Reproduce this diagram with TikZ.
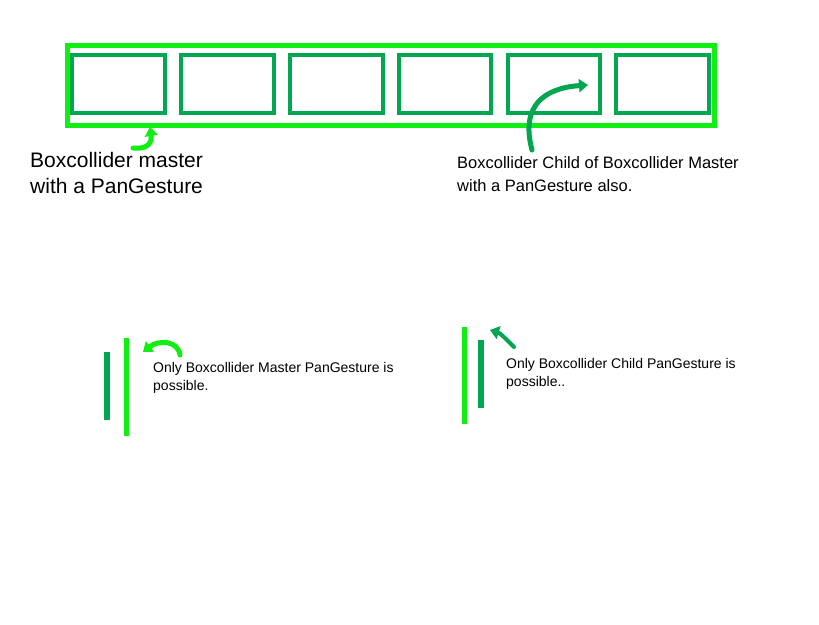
\documentclass[tikz,border=0pt]{standalone}
\usepackage{fontspec}
\setmainfont{Liberation Sans}
\usetikzlibrary{arrows.meta}
\definecolor{bright}{HTML}{11EE11}
\definecolor{dark}{HTML}{00A650}
\tikzset{
  outer/.style={draw=bright,line width=5pt},
  inner/.style={draw=dark,line width=4pt},
  brightbar/.style={draw=bright,line width=5pt},
  darkbar/.style={draw=dark,line width=6pt},
  curvy/.style={line width=5pt,line cap=round,-{Triangle[length=9pt,width=13pt]}},
  lbl/.style={anchor=north west,align=left,inner sep=0pt}
}
\begin{document}
\begin{tikzpicture}[x=1pt,y=-1pt]
\useasboundingbox[fill=white] (0,0) rectangle (819,624);
\draw[outer] (67,45) rectangle (714,125);
\foreach \a/\b [count=\i] in {72/165,181/274,290/383,399/491,508/600,616/709}
  \draw[inner] (\a,55) rectangle (\b,113);
\draw[curvy,bright] (133,148) .. controls (150,150) and (152,140) .. (150,127);
\draw[curvy,dark] (532,150) .. controls (520,105) and (545,88) .. (588,85);
\node[lbl,font=\fontsize{21}{26}\selectfont] (m) at (30,152) {Boxcollider master\\with a PanGesture};
\node[lbl,font=\fontsize{16.5}{23}\selectfont] (c) at (457,156) {Boxcollider Child of Boxcollider Master\\with a PanGesture also.};
\draw[darkbar] (107,352) -- (107,420);
\draw[brightbar] (126,338) -- (126,436);
\draw[curvy,bright] (180,355) .. controls (178,340) and (158,340) .. (143,352);
\node[lbl,font=\fontsize{14}{18}\selectfont] (l) at (153,362) {Only Boxcollider Master PanGesture is\\possible.};
\draw[brightbar] (464,327) -- (464,424);
\draw[darkbar] (481,340) -- (481,408);
\draw[curvy,dark,line width=4pt] (514,347) .. controls (505,338) and (500,333) .. (490,330);
\node[lbl,font=\fontsize{14}{18}\selectfont] (r) at (506,358) {Only Boxcollider Child PanGesture is\\possible..};
\end{tikzpicture}
\end{document}
